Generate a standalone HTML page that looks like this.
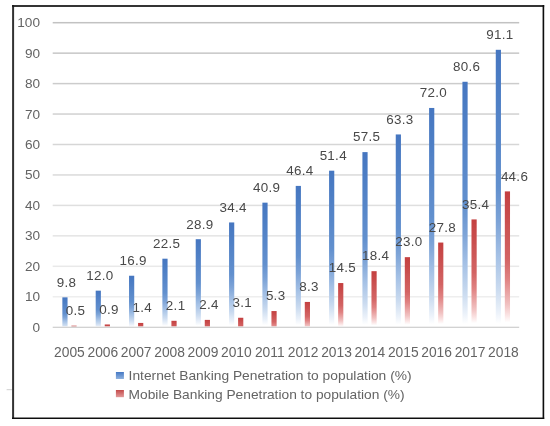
<!DOCTYPE html><html><head><meta charset="utf-8"><title>Chart</title><style>html,body{margin:0;padding:0;background:#fff}svg{display:block}text{font-family:"Liberation Sans",sans-serif;font-size:13.8px}text.d{font-size:13.4px;letter-spacing:0.3px}</style></head><body>
<svg width="550" height="426" viewBox="0 0 550 426">
<defs>
<linearGradient id="gb" x1="0" y1="0" x2="0" y2="1"><stop offset="0" stop-color="#4272c1"/><stop offset="0.5" stop-color="#618fce"/><stop offset="0.8" stop-color="#a0bde4"/><stop offset="1" stop-color="#eef3fa"/></linearGradient>
<linearGradient id="gr" x1="0" y1="0" x2="0" y2="1"><stop offset="0" stop-color="#c44242"/><stop offset="0.5" stop-color="#d16868"/><stop offset="0.8" stop-color="#e29c9c"/><stop offset="1" stop-color="#f8e4e4"/></linearGradient>
<linearGradient id="lb" x1="0" y1="0" x2="0" y2="1"><stop offset="0" stop-color="#4578c4"/><stop offset="1" stop-color="#8fb2df"/></linearGradient>
<linearGradient id="lr" x1="0" y1="0" x2="0" y2="1"><stop offset="0" stop-color="#c44a4a"/><stop offset="1" stop-color="#e29a9a"/></linearGradient>
<filter id="bl" x="-5%" y="-5%" width="110%" height="110%"><feGaussianBlur stdDeviation="0.45"/></filter>
</defs>
<rect width="550" height="426" fill="#fff"/>
<g filter="url(#bl)">
<rect x="12.1" y="5" width="2.0" height="414" fill="#303030"/>
<rect x="12.1" y="5.1" width="532.1" height="1.8" fill="#1c1c1c"/>
<rect x="542.6" y="5" width="1.6" height="414" fill="#111"/>
<rect x="12" y="417.5" width="532.2" height="1.5" fill="#111"/>
<rect x="6.6" y="389.2" width="5.4" height="1" fill="#cfcfcf"/>
<rect x="52.7" y="296.00" width="466.5" height="1.5" fill="rgb(238,238,238)"/>
<rect x="52.7" y="265.55" width="466.5" height="1.5" fill="rgb(233,233,233)"/>
<rect x="52.7" y="235.10" width="466.5" height="1.5" fill="rgb(228,228,228)"/>
<rect x="52.7" y="204.65" width="466.5" height="1.5" fill="rgb(223,223,223)"/>
<rect x="52.7" y="174.20" width="466.5" height="1.5" fill="rgb(218,218,218)"/>
<rect x="52.7" y="143.75" width="466.5" height="1.5" fill="rgb(214,214,214)"/>
<rect x="52.7" y="113.30" width="466.5" height="1.5" fill="rgb(209,209,209)"/>
<rect x="52.7" y="82.85" width="466.5" height="1.5" fill="rgb(204,204,204)"/>
<rect x="52.7" y="52.40" width="466.5" height="1.5" fill="rgb(199,199,199)"/>
<rect x="52.7" y="21.95" width="466.5" height="1.5" fill="rgb(194,194,194)"/>
<text style="font-size:13.6px" x="40.0" y="331.65" text-anchor="end" fill="#646464">0</text>
<text style="font-size:13.6px" x="40.0" y="301.20" text-anchor="end" fill="#646464">10</text>
<text style="font-size:13.6px" x="40.0" y="270.75" text-anchor="end" fill="#646464">20</text>
<text style="font-size:13.6px" x="40.0" y="240.30" text-anchor="end" fill="#646464">30</text>
<text style="font-size:13.6px" x="40.0" y="209.85" text-anchor="end" fill="#646464">40</text>
<text style="font-size:13.6px" x="40.0" y="179.40" text-anchor="end" fill="#646464">50</text>
<text style="font-size:13.6px" x="40.0" y="148.95" text-anchor="end" fill="#646464">60</text>
<text style="font-size:13.6px" x="40.0" y="118.50" text-anchor="end" fill="#646464">70</text>
<text style="font-size:13.6px" x="40.0" y="88.05" text-anchor="end" fill="#646464">80</text>
<text style="font-size:13.6px" x="40.0" y="57.60" text-anchor="end" fill="#646464">90</text>
<text style="font-size:13.6px" x="40.0" y="27.15" text-anchor="end" fill="#646464">100</text>
<linearGradient id="b0" x1="0" y1="0" x2="0" y2="1"><stop offset="0.000" stop-color="rgb(69,118,192)"/><stop offset="0.250" stop-color="rgb(82,130,198)"/><stop offset="0.500" stop-color="rgb(95,141,205)"/><stop offset="0.556" stop-color="rgb(98,144,206)"/><stop offset="0.620" stop-color="rgb(110,153,210)"/><stop offset="0.650" stop-color="rgb(116,157,212)"/><stop offset="0.689" stop-color="rgb(124,163,215)"/><stop offset="0.750" stop-color="rgb(142,176,221)"/><stop offset="0.834" stop-color="rgb(166,194,230)"/><stop offset="0.840" stop-color="rgb(168,195,230)"/><stop offset="0.870" stop-color="rgb(176,201,233)"/><stop offset="0.920" stop-color="rgb(190,211,236)"/><stop offset="0.950" stop-color="rgb(199,217,239)"/><stop offset="0.967" stop-color="rgb(204,220,240)"/><stop offset="0.990" stop-color="rgb(212,226,243)"/><stop offset="1.000" stop-color="rgb(216,228,244)"/></linearGradient>
<linearGradient id="r0" x1="0" y1="0" x2="0" y2="1"><stop offset="0.000" stop-color="rgb(196,64,64)"/><stop offset="0.250" stop-color="rgb(197,66,66)"/><stop offset="0.500" stop-color="rgb(198,68,68)"/><stop offset="0.620" stop-color="rgb(198,69,69)"/><stop offset="0.650" stop-color="rgb(198,69,69)"/><stop offset="0.750" stop-color="rgb(198,70,70)"/><stop offset="0.840" stop-color="rgb(199,71,71)"/><stop offset="0.870" stop-color="rgb(199,71,71)"/><stop offset="0.920" stop-color="rgb(199,71,71)"/><stop offset="0.950" stop-color="rgb(199,72,72)"/><stop offset="0.990" stop-color="rgb(199,72,72)"/><stop offset="1.000" stop-color="rgb(199,72,72)"/></linearGradient>
<rect x="62.35" y="297.36" width="5.2" height="29.04" fill="url(#b0)"/>
<rect x="71.40" y="325.68" width="5.2" height="0.72" fill="url(#r0)"/>
<linearGradient id="b1" x1="0" y1="0" x2="0" y2="1"><stop offset="0.000" stop-color="rgb(69,118,192)"/><stop offset="0.250" stop-color="rgb(83,130,199)"/><stop offset="0.500" stop-color="rgb(96,142,205)"/><stop offset="0.532" stop-color="rgb(98,144,206)"/><stop offset="0.620" stop-color="rgb(116,157,212)"/><stop offset="0.650" stop-color="rgb(122,162,214)"/><stop offset="0.660" stop-color="rgb(124,163,215)"/><stop offset="0.750" stop-color="rgb(151,183,225)"/><stop offset="0.798" stop-color="rgb(166,194,230)"/><stop offset="0.840" stop-color="rgb(178,203,233)"/><stop offset="0.870" stop-color="rgb(187,209,236)"/><stop offset="0.920" stop-color="rgb(202,219,240)"/><stop offset="0.926" stop-color="rgb(204,220,240)"/><stop offset="0.950" stop-color="rgb(213,226,243)"/><stop offset="0.990" stop-color="rgb(228,237,248)"/><stop offset="1.000" stop-color="rgb(232,239,249)"/></linearGradient>
<linearGradient id="r1" x1="0" y1="0" x2="0" y2="1"><stop offset="0.000" stop-color="rgb(196,64,64)"/><stop offset="0.250" stop-color="rgb(197,67,67)"/><stop offset="0.500" stop-color="rgb(199,71,71)"/><stop offset="0.620" stop-color="rgb(200,72,72)"/><stop offset="0.650" stop-color="rgb(200,73,73)"/><stop offset="0.750" stop-color="rgb(200,74,74)"/><stop offset="0.840" stop-color="rgb(201,75,75)"/><stop offset="0.870" stop-color="rgb(201,76,76)"/><stop offset="0.920" stop-color="rgb(201,77,77)"/><stop offset="0.950" stop-color="rgb(201,77,77)"/><stop offset="0.990" stop-color="rgb(202,78,78)"/><stop offset="1.000" stop-color="rgb(202,78,78)"/></linearGradient>
<rect x="95.69" y="290.66" width="5.2" height="35.74" fill="url(#b1)"/>
<rect x="104.74" y="324.46" width="5.2" height="1.94" fill="url(#r1)"/>
<linearGradient id="b2" x1="0" y1="0" x2="0" y2="1"><stop offset="0.000" stop-color="rgb(69,118,192)"/><stop offset="0.250" stop-color="rgb(83,131,199)"/><stop offset="0.500" stop-color="rgb(97,144,206)"/><stop offset="0.510" stop-color="rgb(98,144,206)"/><stop offset="0.620" stop-color="rgb(121,161,214)"/><stop offset="0.632" stop-color="rgb(124,163,215)"/><stop offset="0.650" stop-color="rgb(130,167,217)"/><stop offset="0.750" stop-color="rgb(161,191,228)"/><stop offset="0.765" stop-color="rgb(166,194,230)"/><stop offset="0.840" stop-color="rgb(189,210,236)"/><stop offset="0.870" stop-color="rgb(199,216,239)"/><stop offset="0.887" stop-color="rgb(204,220,240)"/><stop offset="0.920" stop-color="rgb(217,229,244)"/><stop offset="0.950" stop-color="rgb(229,237,248)"/><stop offset="0.968" stop-color="rgb(236,242,250)"/><stop offset="0.990" stop-color="rgb(246,249,253)"/><stop offset="1.000" stop-color="rgb(251,252,254)"/></linearGradient>
<linearGradient id="r2" x1="0" y1="0" x2="0" y2="1"><stop offset="0.000" stop-color="rgb(196,64,64)"/><stop offset="0.250" stop-color="rgb(198,69,69)"/><stop offset="0.500" stop-color="rgb(200,74,74)"/><stop offset="0.620" stop-color="rgb(201,76,76)"/><stop offset="0.650" stop-color="rgb(201,77,77)"/><stop offset="0.750" stop-color="rgb(202,79,79)"/><stop offset="0.840" stop-color="rgb(203,81,81)"/><stop offset="0.870" stop-color="rgb(203,82,82)"/><stop offset="0.920" stop-color="rgb(204,83,83)"/><stop offset="0.950" stop-color="rgb(204,83,83)"/><stop offset="0.990" stop-color="rgb(204,84,84)"/><stop offset="1.000" stop-color="rgb(204,84,84)"/></linearGradient>
<rect x="129.03" y="275.74" width="5.2" height="50.66" fill="url(#b2)"/>
<rect x="138.08" y="322.94" width="5.2" height="3.46" fill="url(#r2)"/>
<linearGradient id="b3" x1="0" y1="0" x2="0" y2="1"><stop offset="0.000" stop-color="rgb(69,118,192)"/><stop offset="0.250" stop-color="rgb(83,131,199)"/><stop offset="0.500" stop-color="rgb(98,144,206)"/><stop offset="0.503" stop-color="rgb(98,144,206)"/><stop offset="0.620" stop-color="rgb(123,162,215)"/><stop offset="0.623" stop-color="rgb(124,163,215)"/><stop offset="0.650" stop-color="rgb(133,169,218)"/><stop offset="0.750" stop-color="rgb(165,193,230)"/><stop offset="0.754" stop-color="rgb(166,194,230)"/><stop offset="0.840" stop-color="rgb(193,213,237)"/><stop offset="0.870" stop-color="rgb(203,219,240)"/><stop offset="0.874" stop-color="rgb(204,220,240)"/><stop offset="0.920" stop-color="rgb(222,232,246)"/><stop offset="0.950" stop-color="rgb(234,241,249)"/><stop offset="0.955" stop-color="rgb(236,242,250)"/><stop offset="0.990" stop-color="rgb(253,253,254)"/><stop offset="0.995" stop-color="rgb(255,255,255)"/><stop offset="1.000" stop-color="rgb(255,255,255)"/></linearGradient>
<linearGradient id="r3" x1="0" y1="0" x2="0" y2="1"><stop offset="0.000" stop-color="rgb(196,64,64)"/><stop offset="0.250" stop-color="rgb(199,71,71)"/><stop offset="0.500" stop-color="rgb(202,78,78)"/><stop offset="0.620" stop-color="rgb(203,81,81)"/><stop offset="0.650" stop-color="rgb(204,82,82)"/><stop offset="0.750" stop-color="rgb(205,85,85)"/><stop offset="0.840" stop-color="rgb(206,87,87)"/><stop offset="0.870" stop-color="rgb(206,88,88)"/><stop offset="0.920" stop-color="rgb(207,90,90)"/><stop offset="0.950" stop-color="rgb(207,91,91)"/><stop offset="0.990" stop-color="rgb(208,92,92)"/><stop offset="1.000" stop-color="rgb(208,92,92)"/></linearGradient>
<rect x="162.37" y="258.69" width="5.2" height="67.71" fill="url(#b3)"/>
<rect x="171.42" y="320.81" width="5.2" height="5.59" fill="url(#r3)"/>
<linearGradient id="b4" x1="0" y1="0" x2="0" y2="1"><stop offset="0.000" stop-color="rgb(69,118,192)"/><stop offset="0.250" stop-color="rgb(83,131,199)"/><stop offset="0.500" stop-color="rgb(98,144,206)"/><stop offset="0.501" stop-color="rgb(98,144,206)"/><stop offset="0.620" stop-color="rgb(124,163,215)"/><stop offset="0.621" stop-color="rgb(124,163,215)"/><stop offset="0.650" stop-color="rgb(133,170,218)"/><stop offset="0.750" stop-color="rgb(166,194,230)"/><stop offset="0.751" stop-color="rgb(166,194,230)"/><stop offset="0.840" stop-color="rgb(194,213,237)"/><stop offset="0.870" stop-color="rgb(204,220,240)"/><stop offset="0.871" stop-color="rgb(204,220,240)"/><stop offset="0.920" stop-color="rgb(224,233,246)"/><stop offset="0.950" stop-color="rgb(236,242,250)"/><stop offset="0.951" stop-color="rgb(236,242,250)"/><stop offset="0.990" stop-color="rgb(254,255,255)"/><stop offset="0.991" stop-color="rgb(255,255,255)"/><stop offset="1.000" stop-color="rgb(255,255,255)"/></linearGradient>
<linearGradient id="r4" x1="0" y1="0" x2="0" y2="1"><stop offset="0.000" stop-color="rgb(196,64,64)"/><stop offset="0.250" stop-color="rgb(199,72,72)"/><stop offset="0.500" stop-color="rgb(202,79,79)"/><stop offset="0.620" stop-color="rgb(204,83,83)"/><stop offset="0.650" stop-color="rgb(204,84,84)"/><stop offset="0.750" stop-color="rgb(206,87,87)"/><stop offset="0.840" stop-color="rgb(207,90,90)"/><stop offset="0.870" stop-color="rgb(207,91,91)"/><stop offset="0.920" stop-color="rgb(208,92,92)"/><stop offset="0.950" stop-color="rgb(208,93,93)"/><stop offset="0.990" stop-color="rgb(209,95,95)"/><stop offset="1.000" stop-color="rgb(209,95,95)"/></linearGradient>
<rect x="195.71" y="239.20" width="5.2" height="87.20" fill="url(#b4)"/>
<rect x="204.76" y="319.89" width="5.2" height="6.51" fill="url(#r4)"/>
<linearGradient id="b5" x1="0" y1="0" x2="0" y2="1"><stop offset="0.000" stop-color="rgb(69,118,192)"/><stop offset="0.250" stop-color="rgb(83,131,199)"/><stop offset="0.500" stop-color="rgb(98,144,206)"/><stop offset="0.500" stop-color="rgb(98,144,206)"/><stop offset="0.620" stop-color="rgb(124,163,215)"/><stop offset="0.620" stop-color="rgb(124,163,215)"/><stop offset="0.650" stop-color="rgb(134,170,218)"/><stop offset="0.750" stop-color="rgb(166,194,230)"/><stop offset="0.750" stop-color="rgb(166,194,230)"/><stop offset="0.840" stop-color="rgb(194,213,237)"/><stop offset="0.870" stop-color="rgb(204,220,240)"/><stop offset="0.870" stop-color="rgb(204,220,240)"/><stop offset="0.920" stop-color="rgb(224,234,246)"/><stop offset="0.950" stop-color="rgb(236,242,250)"/><stop offset="0.950" stop-color="rgb(236,242,250)"/><stop offset="0.990" stop-color="rgb(255,255,255)"/><stop offset="0.990" stop-color="rgb(255,255,255)"/><stop offset="1.000" stop-color="rgb(255,255,255)"/></linearGradient>
<linearGradient id="r5" x1="0" y1="0" x2="0" y2="1"><stop offset="0.000" stop-color="rgb(196,64,64)"/><stop offset="0.250" stop-color="rgb(200,73,73)"/><stop offset="0.500" stop-color="rgb(204,83,83)"/><stop offset="0.620" stop-color="rgb(206,87,87)"/><stop offset="0.650" stop-color="rgb(206,88,88)"/><stop offset="0.750" stop-color="rgb(208,92,92)"/><stop offset="0.840" stop-color="rgb(209,95,95)"/><stop offset="0.870" stop-color="rgb(209,96,96)"/><stop offset="0.920" stop-color="rgb(210,98,98)"/><stop offset="0.950" stop-color="rgb(211,99,99)"/><stop offset="0.969" stop-color="rgb(211,100,100)"/><stop offset="0.990" stop-color="rgb(212,102,102)"/><stop offset="1.000" stop-color="rgb(212,103,103)"/></linearGradient>
<rect x="229.05" y="222.45" width="5.2" height="103.95" fill="url(#b5)"/>
<rect x="238.10" y="317.76" width="5.2" height="8.64" fill="url(#r5)"/>
<linearGradient id="b6" x1="0" y1="0" x2="0" y2="1"><stop offset="0.000" stop-color="rgb(69,118,192)"/><stop offset="0.250" stop-color="rgb(83,131,199)"/><stop offset="0.500" stop-color="rgb(98,144,206)"/><stop offset="0.500" stop-color="rgb(98,144,206)"/><stop offset="0.620" stop-color="rgb(124,163,215)"/><stop offset="0.620" stop-color="rgb(124,163,215)"/><stop offset="0.650" stop-color="rgb(134,170,218)"/><stop offset="0.750" stop-color="rgb(166,194,230)"/><stop offset="0.750" stop-color="rgb(166,194,230)"/><stop offset="0.840" stop-color="rgb(194,213,237)"/><stop offset="0.870" stop-color="rgb(204,220,240)"/><stop offset="0.870" stop-color="rgb(204,220,240)"/><stop offset="0.920" stop-color="rgb(224,234,246)"/><stop offset="0.950" stop-color="rgb(236,242,250)"/><stop offset="0.950" stop-color="rgb(236,242,250)"/><stop offset="0.990" stop-color="rgb(255,255,255)"/><stop offset="0.990" stop-color="rgb(255,255,255)"/><stop offset="1.000" stop-color="rgb(255,255,255)"/></linearGradient>
<linearGradient id="r6" x1="0" y1="0" x2="0" y2="1"><stop offset="0.000" stop-color="rgb(196,64,64)"/><stop offset="0.250" stop-color="rgb(201,77,77)"/><stop offset="0.500" stop-color="rgb(207,90,90)"/><stop offset="0.620" stop-color="rgb(209,96,96)"/><stop offset="0.650" stop-color="rgb(210,97,97)"/><stop offset="0.703" stop-color="rgb(211,100,100)"/><stop offset="0.750" stop-color="rgb(214,107,107)"/><stop offset="0.840" stop-color="rgb(219,119,119)"/><stop offset="0.870" stop-color="rgb(221,124,124)"/><stop offset="0.914" stop-color="rgb(224,130,130)"/><stop offset="0.920" stop-color="rgb(224,131,131)"/><stop offset="0.950" stop-color="rgb(226,139,139)"/><stop offset="0.990" stop-color="rgb(229,148,148)"/><stop offset="1.000" stop-color="rgb(229,151,151)"/></linearGradient>
<rect x="262.39" y="202.66" width="5.2" height="123.74" fill="url(#b6)"/>
<rect x="271.44" y="311.06" width="5.2" height="15.34" fill="url(#r6)"/>
<linearGradient id="b7" x1="0" y1="0" x2="0" y2="1"><stop offset="0.000" stop-color="rgb(69,118,192)"/><stop offset="0.250" stop-color="rgb(83,131,199)"/><stop offset="0.500" stop-color="rgb(98,144,206)"/><stop offset="0.500" stop-color="rgb(98,144,206)"/><stop offset="0.620" stop-color="rgb(124,163,215)"/><stop offset="0.620" stop-color="rgb(124,163,215)"/><stop offset="0.650" stop-color="rgb(134,170,218)"/><stop offset="0.750" stop-color="rgb(166,194,230)"/><stop offset="0.750" stop-color="rgb(166,194,230)"/><stop offset="0.840" stop-color="rgb(194,213,237)"/><stop offset="0.870" stop-color="rgb(204,220,240)"/><stop offset="0.870" stop-color="rgb(204,220,240)"/><stop offset="0.920" stop-color="rgb(224,234,246)"/><stop offset="0.950" stop-color="rgb(236,242,250)"/><stop offset="0.950" stop-color="rgb(236,242,250)"/><stop offset="0.990" stop-color="rgb(255,255,255)"/><stop offset="0.990" stop-color="rgb(255,255,255)"/><stop offset="1.000" stop-color="rgb(255,255,255)"/></linearGradient>
<linearGradient id="r7" x1="0" y1="0" x2="0" y2="1"><stop offset="0.000" stop-color="rgb(196,64,64)"/><stop offset="0.250" stop-color="rgb(202,79,79)"/><stop offset="0.500" stop-color="rgb(209,95,95)"/><stop offset="0.584" stop-color="rgb(211,100,100)"/><stop offset="0.620" stop-color="rgb(214,106,106)"/><stop offset="0.650" stop-color="rgb(216,111,111)"/><stop offset="0.750" stop-color="rgb(223,129,129)"/><stop offset="0.759" stop-color="rgb(224,130,130)"/><stop offset="0.840" stop-color="rgb(230,154,154)"/><stop offset="0.870" stop-color="rgb(233,162,162)"/><stop offset="0.920" stop-color="rgb(236,177,177)"/><stop offset="0.950" stop-color="rgb(239,185,185)"/><stop offset="0.980" stop-color="rgb(241,194,194)"/><stop offset="0.990" stop-color="rgb(242,198,198)"/><stop offset="1.000" stop-color="rgb(243,202,202)"/></linearGradient>
<rect x="295.73" y="185.91" width="5.2" height="140.49" fill="url(#b7)"/>
<rect x="304.78" y="301.93" width="5.2" height="24.47" fill="url(#r7)"/>
<linearGradient id="b8" x1="0" y1="0" x2="0" y2="1"><stop offset="0.000" stop-color="rgb(69,118,192)"/><stop offset="0.250" stop-color="rgb(83,131,199)"/><stop offset="0.500" stop-color="rgb(98,144,206)"/><stop offset="0.500" stop-color="rgb(98,144,206)"/><stop offset="0.620" stop-color="rgb(124,163,215)"/><stop offset="0.620" stop-color="rgb(124,163,215)"/><stop offset="0.650" stop-color="rgb(134,170,218)"/><stop offset="0.750" stop-color="rgb(166,194,230)"/><stop offset="0.750" stop-color="rgb(166,194,230)"/><stop offset="0.840" stop-color="rgb(194,213,237)"/><stop offset="0.870" stop-color="rgb(204,220,240)"/><stop offset="0.870" stop-color="rgb(204,220,240)"/><stop offset="0.920" stop-color="rgb(224,234,246)"/><stop offset="0.950" stop-color="rgb(236,242,250)"/><stop offset="0.950" stop-color="rgb(236,242,250)"/><stop offset="0.990" stop-color="rgb(255,255,255)"/><stop offset="0.990" stop-color="rgb(255,255,255)"/><stop offset="1.000" stop-color="rgb(255,255,255)"/></linearGradient>
<linearGradient id="r8" x1="0" y1="0" x2="0" y2="1"><stop offset="0.000" stop-color="rgb(196,64,64)"/><stop offset="0.250" stop-color="rgb(203,81,81)"/><stop offset="0.500" stop-color="rgb(210,99,99)"/><stop offset="0.517" stop-color="rgb(211,100,100)"/><stop offset="0.620" stop-color="rgb(220,120,120)"/><stop offset="0.650" stop-color="rgb(222,126,126)"/><stop offset="0.673" stop-color="rgb(224,130,130)"/><stop offset="0.750" stop-color="rgb(231,155,155)"/><stop offset="0.840" stop-color="rgb(238,185,185)"/><stop offset="0.869" stop-color="rgb(241,194,194)"/><stop offset="0.870" stop-color="rgb(241,194,194)"/><stop offset="0.920" stop-color="rgb(247,216,216)"/><stop offset="0.950" stop-color="rgb(251,229,229)"/><stop offset="0.952" stop-color="rgb(251,230,230)"/><stop offset="0.990" stop-color="rgb(254,248,248)"/><stop offset="1.000" stop-color="rgb(255,253,253)"/></linearGradient>
<rect x="329.07" y="170.69" width="5.2" height="155.71" fill="url(#b8)"/>
<rect x="338.12" y="283.05" width="5.2" height="43.35" fill="url(#r8)"/>
<linearGradient id="b9" x1="0" y1="0" x2="0" y2="1"><stop offset="0.000" stop-color="rgb(69,118,192)"/><stop offset="0.250" stop-color="rgb(83,131,199)"/><stop offset="0.500" stop-color="rgb(98,144,206)"/><stop offset="0.500" stop-color="rgb(98,144,206)"/><stop offset="0.620" stop-color="rgb(124,163,215)"/><stop offset="0.620" stop-color="rgb(124,163,215)"/><stop offset="0.650" stop-color="rgb(134,170,218)"/><stop offset="0.750" stop-color="rgb(166,194,230)"/><stop offset="0.750" stop-color="rgb(166,194,230)"/><stop offset="0.840" stop-color="rgb(194,213,237)"/><stop offset="0.870" stop-color="rgb(204,220,240)"/><stop offset="0.870" stop-color="rgb(204,220,240)"/><stop offset="0.920" stop-color="rgb(224,234,246)"/><stop offset="0.950" stop-color="rgb(236,242,250)"/><stop offset="0.950" stop-color="rgb(236,242,250)"/><stop offset="0.990" stop-color="rgb(255,255,255)"/><stop offset="0.990" stop-color="rgb(255,255,255)"/><stop offset="1.000" stop-color="rgb(255,255,255)"/></linearGradient>
<linearGradient id="r9" x1="0" y1="0" x2="0" y2="1"><stop offset="0.000" stop-color="rgb(196,64,64)"/><stop offset="0.250" stop-color="rgb(203,82,82)"/><stop offset="0.500" stop-color="rgb(211,100,100)"/><stop offset="0.507" stop-color="rgb(211,100,100)"/><stop offset="0.620" stop-color="rgb(221,122,122)"/><stop offset="0.650" stop-color="rgb(223,128,128)"/><stop offset="0.659" stop-color="rgb(224,130,130)"/><stop offset="0.750" stop-color="rgb(232,160,160)"/><stop offset="0.840" stop-color="rgb(240,190,190)"/><stop offset="0.851" stop-color="rgb(241,194,194)"/><stop offset="0.870" stop-color="rgb(243,202,202)"/><stop offset="0.920" stop-color="rgb(249,224,224)"/><stop offset="0.933" stop-color="rgb(251,230,230)"/><stop offset="0.950" stop-color="rgb(252,239,239)"/><stop offset="0.983" stop-color="rgb(255,255,255)"/><stop offset="0.990" stop-color="rgb(255,255,255)"/><stop offset="1.000" stop-color="rgb(255,255,255)"/></linearGradient>
<rect x="362.41" y="152.11" width="5.2" height="174.29" fill="url(#b9)"/>
<rect x="371.46" y="271.17" width="5.2" height="55.23" fill="url(#r9)"/>
<linearGradient id="b10" x1="0" y1="0" x2="0" y2="1"><stop offset="0.000" stop-color="rgb(69,118,192)"/><stop offset="0.250" stop-color="rgb(83,131,199)"/><stop offset="0.500" stop-color="rgb(98,144,206)"/><stop offset="0.500" stop-color="rgb(98,144,206)"/><stop offset="0.620" stop-color="rgb(124,163,215)"/><stop offset="0.620" stop-color="rgb(124,163,215)"/><stop offset="0.650" stop-color="rgb(134,170,218)"/><stop offset="0.750" stop-color="rgb(166,194,230)"/><stop offset="0.750" stop-color="rgb(166,194,230)"/><stop offset="0.840" stop-color="rgb(194,213,237)"/><stop offset="0.870" stop-color="rgb(204,220,240)"/><stop offset="0.870" stop-color="rgb(204,220,240)"/><stop offset="0.920" stop-color="rgb(224,234,246)"/><stop offset="0.950" stop-color="rgb(236,242,250)"/><stop offset="0.950" stop-color="rgb(236,242,250)"/><stop offset="0.990" stop-color="rgb(255,255,255)"/><stop offset="0.990" stop-color="rgb(255,255,255)"/><stop offset="1.000" stop-color="rgb(255,255,255)"/></linearGradient>
<linearGradient id="r10" x1="0" y1="0" x2="0" y2="1"><stop offset="0.000" stop-color="rgb(196,64,64)"/><stop offset="0.250" stop-color="rgb(203,82,82)"/><stop offset="0.500" stop-color="rgb(211,100,100)"/><stop offset="0.502" stop-color="rgb(211,100,100)"/><stop offset="0.620" stop-color="rgb(221,123,123)"/><stop offset="0.650" stop-color="rgb(224,129,129)"/><stop offset="0.653" stop-color="rgb(224,130,130)"/><stop offset="0.750" stop-color="rgb(233,163,163)"/><stop offset="0.840" stop-color="rgb(241,193,193)"/><stop offset="0.844" stop-color="rgb(241,194,194)"/><stop offset="0.870" stop-color="rgb(244,206,206)"/><stop offset="0.920" stop-color="rgb(250,228,228)"/><stop offset="0.924" stop-color="rgb(251,230,230)"/><stop offset="0.950" stop-color="rgb(253,243,243)"/><stop offset="0.974" stop-color="rgb(255,255,255)"/><stop offset="0.990" stop-color="rgb(255,255,255)"/><stop offset="1.000" stop-color="rgb(255,255,255)"/></linearGradient>
<rect x="395.75" y="134.45" width="5.2" height="191.95" fill="url(#b10)"/>
<rect x="404.80" y="257.16" width="5.2" height="69.24" fill="url(#r10)"/>
<linearGradient id="b11" x1="0" y1="0" x2="0" y2="1"><stop offset="0.000" stop-color="rgb(69,118,192)"/><stop offset="0.250" stop-color="rgb(83,131,199)"/><stop offset="0.500" stop-color="rgb(98,144,206)"/><stop offset="0.500" stop-color="rgb(98,144,206)"/><stop offset="0.620" stop-color="rgb(124,163,215)"/><stop offset="0.620" stop-color="rgb(124,163,215)"/><stop offset="0.650" stop-color="rgb(134,170,218)"/><stop offset="0.750" stop-color="rgb(166,194,230)"/><stop offset="0.750" stop-color="rgb(166,194,230)"/><stop offset="0.840" stop-color="rgb(194,213,237)"/><stop offset="0.870" stop-color="rgb(204,220,240)"/><stop offset="0.870" stop-color="rgb(204,220,240)"/><stop offset="0.920" stop-color="rgb(224,234,246)"/><stop offset="0.950" stop-color="rgb(236,242,250)"/><stop offset="0.950" stop-color="rgb(236,242,250)"/><stop offset="0.990" stop-color="rgb(255,255,255)"/><stop offset="0.990" stop-color="rgb(255,255,255)"/><stop offset="1.000" stop-color="rgb(255,255,255)"/></linearGradient>
<linearGradient id="r11" x1="0" y1="0" x2="0" y2="1"><stop offset="0.000" stop-color="rgb(196,64,64)"/><stop offset="0.250" stop-color="rgb(203,82,82)"/><stop offset="0.500" stop-color="rgb(211,100,100)"/><stop offset="0.501" stop-color="rgb(211,100,100)"/><stop offset="0.620" stop-color="rgb(221,124,124)"/><stop offset="0.650" stop-color="rgb(224,130,130)"/><stop offset="0.651" stop-color="rgb(224,130,130)"/><stop offset="0.750" stop-color="rgb(233,163,163)"/><stop offset="0.840" stop-color="rgb(241,194,194)"/><stop offset="0.841" stop-color="rgb(241,194,194)"/><stop offset="0.870" stop-color="rgb(245,207,207)"/><stop offset="0.920" stop-color="rgb(251,229,229)"/><stop offset="0.921" stop-color="rgb(251,230,230)"/><stop offset="0.950" stop-color="rgb(253,244,244)"/><stop offset="0.971" stop-color="rgb(255,255,255)"/><stop offset="0.990" stop-color="rgb(255,255,255)"/><stop offset="1.000" stop-color="rgb(255,255,255)"/></linearGradient>
<rect x="429.09" y="107.96" width="5.2" height="218.44" fill="url(#b11)"/>
<rect x="438.14" y="242.55" width="5.2" height="83.85" fill="url(#r11)"/>
<linearGradient id="b12" x1="0" y1="0" x2="0" y2="1"><stop offset="0.000" stop-color="rgb(69,118,192)"/><stop offset="0.250" stop-color="rgb(83,131,199)"/><stop offset="0.500" stop-color="rgb(98,144,206)"/><stop offset="0.500" stop-color="rgb(98,144,206)"/><stop offset="0.620" stop-color="rgb(124,163,215)"/><stop offset="0.620" stop-color="rgb(124,163,215)"/><stop offset="0.650" stop-color="rgb(134,170,218)"/><stop offset="0.750" stop-color="rgb(166,194,230)"/><stop offset="0.750" stop-color="rgb(166,194,230)"/><stop offset="0.840" stop-color="rgb(194,213,237)"/><stop offset="0.870" stop-color="rgb(204,220,240)"/><stop offset="0.870" stop-color="rgb(204,220,240)"/><stop offset="0.920" stop-color="rgb(224,234,246)"/><stop offset="0.950" stop-color="rgb(236,242,250)"/><stop offset="0.950" stop-color="rgb(236,242,250)"/><stop offset="0.990" stop-color="rgb(255,255,255)"/><stop offset="0.990" stop-color="rgb(255,255,255)"/><stop offset="1.000" stop-color="rgb(255,255,255)"/></linearGradient>
<linearGradient id="r12" x1="0" y1="0" x2="0" y2="1"><stop offset="0.000" stop-color="rgb(196,64,64)"/><stop offset="0.250" stop-color="rgb(203,82,82)"/><stop offset="0.500" stop-color="rgb(211,100,100)"/><stop offset="0.500" stop-color="rgb(211,100,100)"/><stop offset="0.620" stop-color="rgb(221,124,124)"/><stop offset="0.650" stop-color="rgb(224,130,130)"/><stop offset="0.650" stop-color="rgb(224,130,130)"/><stop offset="0.750" stop-color="rgb(233,164,164)"/><stop offset="0.840" stop-color="rgb(241,194,194)"/><stop offset="0.840" stop-color="rgb(241,194,194)"/><stop offset="0.870" stop-color="rgb(245,207,207)"/><stop offset="0.920" stop-color="rgb(251,230,230)"/><stop offset="0.920" stop-color="rgb(251,230,230)"/><stop offset="0.950" stop-color="rgb(253,245,245)"/><stop offset="0.970" stop-color="rgb(255,255,255)"/><stop offset="0.990" stop-color="rgb(255,255,255)"/><stop offset="1.000" stop-color="rgb(255,255,255)"/></linearGradient>
<rect x="462.43" y="81.77" width="5.2" height="244.63" fill="url(#b12)"/>
<rect x="471.48" y="219.41" width="5.2" height="106.99" fill="url(#r12)"/>
<linearGradient id="b13" x1="0" y1="0" x2="0" y2="1"><stop offset="0.000" stop-color="rgb(69,118,192)"/><stop offset="0.250" stop-color="rgb(83,131,199)"/><stop offset="0.500" stop-color="rgb(98,144,206)"/><stop offset="0.500" stop-color="rgb(98,144,206)"/><stop offset="0.620" stop-color="rgb(124,163,215)"/><stop offset="0.620" stop-color="rgb(124,163,215)"/><stop offset="0.650" stop-color="rgb(134,170,218)"/><stop offset="0.750" stop-color="rgb(166,194,230)"/><stop offset="0.750" stop-color="rgb(166,194,230)"/><stop offset="0.840" stop-color="rgb(194,213,237)"/><stop offset="0.870" stop-color="rgb(204,220,240)"/><stop offset="0.870" stop-color="rgb(204,220,240)"/><stop offset="0.920" stop-color="rgb(224,234,246)"/><stop offset="0.950" stop-color="rgb(236,242,250)"/><stop offset="0.950" stop-color="rgb(236,242,250)"/><stop offset="0.990" stop-color="rgb(255,255,255)"/><stop offset="0.990" stop-color="rgb(255,255,255)"/><stop offset="1.000" stop-color="rgb(255,255,255)"/></linearGradient>
<linearGradient id="r13" x1="0" y1="0" x2="0" y2="1"><stop offset="0.000" stop-color="rgb(196,64,64)"/><stop offset="0.250" stop-color="rgb(203,82,82)"/><stop offset="0.500" stop-color="rgb(211,100,100)"/><stop offset="0.500" stop-color="rgb(211,100,100)"/><stop offset="0.620" stop-color="rgb(221,124,124)"/><stop offset="0.650" stop-color="rgb(224,130,130)"/><stop offset="0.650" stop-color="rgb(224,130,130)"/><stop offset="0.750" stop-color="rgb(233,164,164)"/><stop offset="0.840" stop-color="rgb(241,194,194)"/><stop offset="0.840" stop-color="rgb(241,194,194)"/><stop offset="0.870" stop-color="rgb(245,207,207)"/><stop offset="0.920" stop-color="rgb(251,230,230)"/><stop offset="0.920" stop-color="rgb(251,230,230)"/><stop offset="0.950" stop-color="rgb(253,245,245)"/><stop offset="0.970" stop-color="rgb(255,255,255)"/><stop offset="0.990" stop-color="rgb(255,255,255)"/><stop offset="1.000" stop-color="rgb(255,255,255)"/></linearGradient>
<rect x="495.77" y="49.80" width="5.2" height="276.60" fill="url(#b13)"/>
<rect x="504.82" y="191.39" width="5.2" height="135.01" fill="url(#r13)"/>
<rect x="52.7" y="326.70" width="466.5" height="1.2" fill="#cecece"/>
<text class="d" x="66.55" y="286.66" text-anchor="middle" fill="#484848">9.8</text>
<text class="d" x="75.60" y="314.98" text-anchor="middle" fill="#484848">0.5</text>
<text class="d" x="99.89" y="279.96" text-anchor="middle" fill="#484848">12.0</text>
<text class="d" x="108.94" y="313.76" text-anchor="middle" fill="#484848">0.9</text>
<text class="d" x="133.23" y="265.04" text-anchor="middle" fill="#484848">16.9</text>
<text class="d" x="142.28" y="312.24" text-anchor="middle" fill="#484848">1.4</text>
<text class="d" x="166.57" y="247.99" text-anchor="middle" fill="#484848">22.5</text>
<text class="d" x="175.62" y="310.11" text-anchor="middle" fill="#484848">2.1</text>
<text class="d" x="199.91" y="228.50" text-anchor="middle" fill="#484848">28.9</text>
<text class="d" x="208.96" y="309.19" text-anchor="middle" fill="#484848">2.4</text>
<text class="d" x="233.25" y="211.75" text-anchor="middle" fill="#484848">34.4</text>
<text class="d" x="242.30" y="307.06" text-anchor="middle" fill="#484848">3.1</text>
<text class="d" x="266.59" y="191.96" text-anchor="middle" fill="#484848">40.9</text>
<text class="d" x="275.64" y="300.36" text-anchor="middle" fill="#484848">5.3</text>
<text class="d" x="299.93" y="175.21" text-anchor="middle" fill="#484848">46.4</text>
<text class="d" x="308.98" y="291.23" text-anchor="middle" fill="#484848">8.3</text>
<text class="d" x="333.27" y="159.99" text-anchor="middle" fill="#484848">51.4</text>
<text class="d" x="342.32" y="272.35" text-anchor="middle" fill="#484848">14.5</text>
<text class="d" x="366.61" y="141.41" text-anchor="middle" fill="#484848">57.5</text>
<text class="d" x="375.66" y="260.47" text-anchor="middle" fill="#484848">18.4</text>
<text class="d" x="399.95" y="123.75" text-anchor="middle" fill="#484848">63.3</text>
<text class="d" x="409.00" y="246.46" text-anchor="middle" fill="#484848">23.0</text>
<text class="d" x="433.29" y="97.26" text-anchor="middle" fill="#484848">72.0</text>
<text class="d" x="442.34" y="231.85" text-anchor="middle" fill="#484848">27.8</text>
<text class="d" x="466.63" y="71.07" text-anchor="middle" fill="#484848">80.6</text>
<text class="d" x="475.68" y="208.71" text-anchor="middle" fill="#484848">35.4</text>
<text class="d" x="499.97" y="39.10" text-anchor="middle" fill="#484848">91.1</text>
<text class="d" x="514.52" y="180.69" text-anchor="middle" fill="#484848">44.6</text>
<text x="69.45" y="356.9" text-anchor="middle" fill="#646464">2005</text>
<text x="102.83" y="356.9" text-anchor="middle" fill="#646464">2006</text>
<text x="136.21" y="356.9" text-anchor="middle" fill="#646464">2007</text>
<text x="169.59" y="356.9" text-anchor="middle" fill="#646464">2008</text>
<text x="202.97" y="356.9" text-anchor="middle" fill="#646464">2009</text>
<text x="236.35" y="356.9" text-anchor="middle" fill="#646464">2010</text>
<text x="269.73" y="356.9" text-anchor="middle" fill="#646464">2011</text>
<text x="303.11" y="356.9" text-anchor="middle" fill="#646464">2012</text>
<text x="336.49" y="356.9" text-anchor="middle" fill="#646464">2013</text>
<text x="369.87" y="356.9" text-anchor="middle" fill="#646464">2014</text>
<text x="403.25" y="356.9" text-anchor="middle" fill="#646464">2015</text>
<text x="436.63" y="356.9" text-anchor="middle" fill="#646464">2016</text>
<text x="470.01" y="356.9" text-anchor="middle" fill="#646464">2017</text>
<text x="503.39" y="356.9" text-anchor="middle" fill="#646464">2018</text>
<rect x="115.9" y="372" width="8" height="7" fill="url(#lb)"/>
<rect x="115.9" y="390" width="8" height="7.2" fill="url(#lr)"/>
<text style="font-size:13.2px" x="128.6" y="380.1" fill="#646464" textLength="283" lengthAdjust="spacingAndGlyphs">Internet Banking Penetration to population (%)</text>
<text style="font-size:13.2px" x="128.6" y="398.6" fill="#646464" textLength="276" lengthAdjust="spacingAndGlyphs">Mobile Banking Penetration to population (%)</text>
</g>
</svg></body></html>
